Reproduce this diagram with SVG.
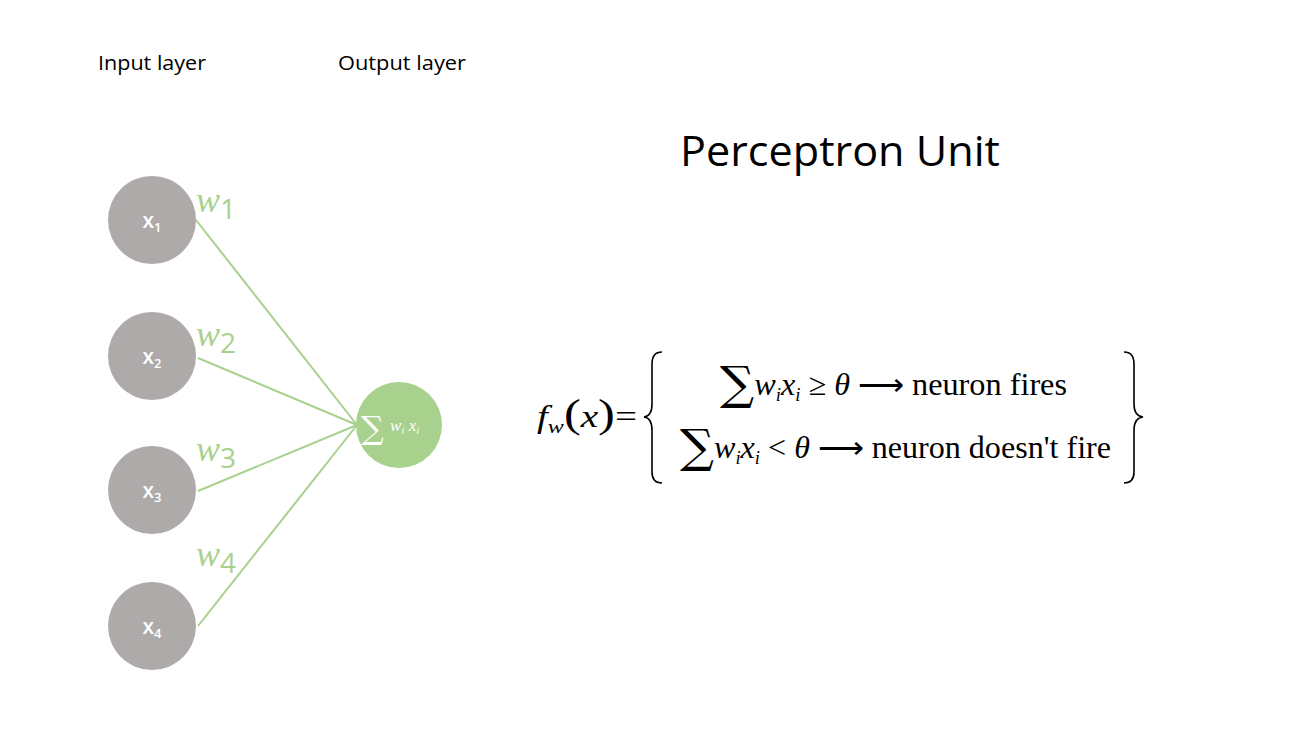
<svg xmlns="http://www.w3.org/2000/svg" width="1316" height="738" viewBox="0 0 1316 738">
<style>
.lbl{font-family:"Open Sans","Liberation Sans",sans-serif;font-size:20px;fill:#000}
.in{fill:#aeaaaa}
.xt{font-family:"Open Sans","Liberation Sans",sans-serif;font-size:21px;font-weight:600;fill:#fff;text-anchor:middle}
.w{font-family:"Liberation Serif",serif;font-style:italic;font-size:36px;fill:#a9d18e}
.m{font-family:"Liberation Serif",serif;font-size:31px;fill:#000}
.i{font-style:italic}
.br{fill:none;stroke:#000;stroke-width:1.6}
</style>
<rect width="1316" height="738" fill="#fff"/>
<text class="lbl" x="98" y="70" textLength="108" lengthAdjust="spacingAndGlyphs">Input layer</text>
<text class="lbl" x="338" y="70" textLength="128" lengthAdjust="spacingAndGlyphs">Output layer</text>
<text x="680" y="166" font-family="Open Sans, Liberation Sans, sans-serif" font-size="42" fill="#000" textLength="320" lengthAdjust="spacingAndGlyphs">Perceptron Unit</text>
<g id="connectors" stroke="#a9d18e" stroke-width="2">
<line x1="196" y1="220" x2="357" y2="425"/>
<line x1="198" y1="358" x2="357" y2="425"/>
<line x1="198" y1="491" x2="357" y2="425"/>
<line x1="198" y1="626" x2="357" y2="425"/>
</g>
<g id="x1"><circle class="in" cx="152" cy="220" r="44"/><text class="xt" x="152" y="228">x<tspan font-size="13" dy="4">1</tspan></text></g>
<g id="x2"><circle class="in" cx="152" cy="356" r="44"/><text class="xt" x="152" y="364">x<tspan font-size="13" dy="4">2</tspan></text></g>
<g id="x3"><circle class="in" cx="152" cy="490" r="44"/><text class="xt" x="152" y="498">x<tspan font-size="13" dy="4">3</tspan></text></g>
<g id="x4"><circle class="in" cx="152" cy="626" r="44"/><text class="xt" x="152" y="634">x<tspan font-size="13" dy="4">4</tspan></text></g>
<g id="w"><text class="w" x="196" y="212">w<tspan font-style="normal" font-size="28" font-family="Open Sans, Liberation Sans, sans-serif" dy="7">1</tspan></text>
<text class="w" x="196" y="346">w<tspan font-style="normal" font-size="28" font-family="Open Sans, Liberation Sans, sans-serif" dy="7">2</tspan></text>
<text class="w" x="196" y="461">w<tspan font-style="normal" font-size="28" font-family="Open Sans, Liberation Sans, sans-serif" dy="7">3</tspan></text>
<text class="w" x="196" y="566">w<tspan font-style="normal" font-size="28" font-family="Open Sans, Liberation Sans, sans-serif" dy="7">4</tspan></text></g>
<g id="out"><circle cx="399" cy="425" r="43" fill="#a9d18e"/>
<text x="361" y="439" font-family="DejaVu Serif, serif" font-size="32" fill="#fff">∑</text>
<text x="390" y="431" font-family="Liberation Serif, serif" font-style="italic" font-size="17" fill="#fff">w<tspan font-size="11" dy="3">i</tspan><tspan dy="-3"> x</tspan><tspan font-size="11" dy="3">i</tspan></text></g>
<g id="formula">
<text class="m" x="537" y="427" font-size="34" textLength="100" lengthAdjust="spacingAndGlyphs"><tspan class="i">f</tspan><tspan font-size="19" class="i" dy="6">w</tspan><tspan dy="-6" font-size="40">(</tspan><tspan class="i">x</tspan><tspan font-size="40">)</tspan>=</text>
<path class="br" d="M662,352 Q652,352 652,364 L652,404 Q652,416 644,417 Q652,418 652,430 L652,472 Q652,483 662,483"/>
<path class="br" d="M1124,352 Q1134,352 1134,364 L1134,404 Q1134,416 1143,417 Q1134,418 1134,430 L1134,472 Q1134,483 1124,483"/>
<text class="m" x="720" y="395" textLength="347" lengthAdjust="spacingAndGlyphs"><tspan font-family="DejaVu Serif, serif" font-size="46" dy="4">∑</tspan><tspan class="i" dy="-4">w</tspan><tspan class="i" font-size="18" dy="6">i</tspan><tspan class="i" dy="-6">x</tspan><tspan class="i" font-size="18" dy="6">i</tspan><tspan dy="-6"> ≥ </tspan><tspan class="i">θ</tspan> ⟶ neuron fires</text>
<text class="m" x="680" y="458" textLength="431" lengthAdjust="spacingAndGlyphs"><tspan font-family="DejaVu Serif, serif" font-size="46" dy="4">∑</tspan><tspan class="i" dy="-4">w</tspan><tspan class="i" font-size="18" dy="6">i</tspan><tspan class="i" dy="-6">x</tspan><tspan class="i" font-size="18" dy="6">i</tspan><tspan dy="-6"> &lt; </tspan><tspan class="i">θ</tspan> ⟶ neuron doesn't fire</text>
</g>
</svg>
